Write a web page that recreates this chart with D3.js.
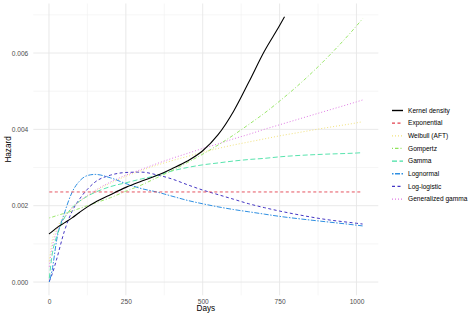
<!DOCTYPE html>
<html>
<head>
<meta charset="utf-8">
<script src="https://cdn.jsdelivr.net/npm/d3@7"></script>
<style>
  body { margin: 0; background: #fff; }
  svg { display: block; font-family: "Liberation Sans", Arial, sans-serif; }
</style>
</head>
<body>
<div id="chart"></div>
<script>
// Days at which each hazard curve was read
const days = [1, 10, 25, 50, 75, 100, 125, 150, 200, 250, 300, 350, 400, 450, 500,
  550, 600, 650, 700, 750, 800, 900, 1000, 1020];

// Kernel density has its own (shorter) grid, it stops around day 766
const kernelDays = [0, 10, 25, 50, 75, 100, 125, 150, 200, 250, 300, 350, 400, 450,
  500, 550, 600, 650, 700, 750, 766];
const kernelHazard = [0.00126, 0.00132, 0.00142, 0.00155, 0.00168, 0.00183, 0.00197,
  0.00209, 0.00229, 0.00248, 0.00264, 0.00279, 0.00297, 0.00317, 0.00344, 0.00386,
  0.00447, 0.00524, 0.00604, 0.00672, 0.00695];

const exponentialHazard = [0.00236, 0.00236, 0.00236, 0.00236, 0.00236, 0.00236,
  0.00236, 0.00236, 0.00236, 0.00236, 0.00236, 0.00236, 0.00236, 0.00236, 0.00236,
  0.00236, 0.00236, 0.00236, 0.00236, 0.00236, 0.00236, 0.00236, 0.00236, 0.00236];
const weibullHazard = [0.00054, 0.00107, 0.00140, 0.00172, 0.00194, 0.00211, 0.00225,
  0.00238, 0.00259, 0.00277, 0.00292, 0.00306, 0.00318, 0.00329, 0.00340, 0.00350,
  0.00359, 0.00367, 0.00375, 0.00383, 0.00390, 0.00404, 0.00417, 0.00420];
const gompertzHazard = [0.00168, 0.00170, 0.00174, 0.00180, 0.00186, 0.00193, 0.00200,
  0.00207, 0.00221, 0.00238, 0.00254, 0.00273, 0.00292, 0.00313, 0.00335, 0.00359,
  0.00385, 0.00413, 0.00442, 0.00474, 0.00508, 0.00584, 0.00671, 0.00690];
const gammaHazard = [0.00010, 0.00070, 0.00120, 0.00168, 0.00195, 0.00212, 0.00225,
  0.00235, 0.00250, 0.00260, 0.00270, 0.00279, 0.00291, 0.00300, 0.00307, 0.00312,
  0.00317, 0.00321, 0.00324, 0.00328, 0.00331, 0.00335, 0.00338, 0.00339];
const lognormalHazard = [0.00000, 0.00030, 0.00110, 0.00180, 0.00235, 0.00265, 0.00279,
  0.00282, 0.00273, 0.00258, 0.00245, 0.00236, 0.00225, 0.00214, 0.00205, 0.00197,
  0.00190, 0.00184, 0.00178, 0.00172, 0.00167, 0.00158, 0.00149, 0.00147];
const loglogisticHazard = [0.00002, 0.00020, 0.00060, 0.00133, 0.00185, 0.00218,
  0.00243, 0.00262, 0.00280, 0.00287, 0.00288, 0.00281, 0.00270, 0.00255, 0.00241,
  0.00229, 0.00217, 0.00205, 0.00195, 0.00186, 0.00178, 0.00164, 0.00154, 0.00152];
const gengammaHazard = [0.00040, 0.00090, 0.00132, 0.00168, 0.00193, 0.00212, 0.00227,
  0.00240, 0.00262, 0.00280, 0.00295, 0.00310, 0.00324, 0.00337, 0.00350, 0.00362,
  0.00375, 0.00387, 0.00400, 0.00412, 0.00424, 0.00448, 0.00472, 0.00477];

const xTicks = [0, 250, 500, 750, 1000];
const yTicks = [0, 0.002, 0.004, 0.006];

// legend order / styles
const series = [
  { name: 'Kernel density', x: kernelDays, y: kernelHazard, color: '#000000', dash: null, width: 1.1 },
  { name: 'Exponential', x: days, y: exponentialHazard, color: '#E2404E', dash: '3,2.5', width: 0.9 },
  { name: 'Weibull (AFT)', x: days, y: weibullHazard, color: '#F2E27E', dash: '1,2', width: 1 },
  { name: 'Gompertz', x: days, y: gompertzHazard, color: '#8FE35A', dash: '1,2,3.5,2', width: 0.9 },
  { name: 'Gamma', x: days, y: gammaHazard, color: '#45E0A4', dash: '5,2.5', width: 0.9 },
  { name: 'Lognormal', x: days, y: lognormalHazard, color: '#2E8FE2', dash: '1.5,1.5,5,1.5', width: 1 },
  { name: 'Log-logistic', x: days, y: loglogisticHazard, color: '#4436C4', dash: '3,2.5', width: 1 },
  { name: 'Generalized gamma', x: days, y: gengammaHazard, color: '#E07AE4', dash: '1,2', width: 1 }
];

const width = 474, height = 316;
const panel = { left: 33.3, right: 378.3, top: 3.5, bottom: 295.3 };

const svg = d3.select('#chart').append('svg')
  .attr('width', width)
  .attr('height', height);

// ggplot-like 5% expansion
const xMax = d3.max(series, s => d3.max(s.x));
const yMax = d3.max(series, s => d3.max(s.y));
const x = d3.scaleLinear()
  .domain([-0.05 * xMax, xMax * 1.05])
  .range([panel.left, panel.right]);
const y = d3.scaleLinear()
  .domain([-0.05 * yMax, yMax * 1.05])
  .range([panel.bottom, panel.top]);

// grid
const grid = svg.append('g');
const xMinor = xTicks.slice(0, -1).map((t, i) => (t + xTicks[i + 1]) / 2);
const yMinor = yTicks.map(t => t + 0.001);

grid.selectAll('.xminor').data(xMinor).enter().append('line')
  .attr('x1', d => x(d)).attr('x2', d => x(d))
  .attr('y1', panel.top).attr('y2', panel.bottom)
  .attr('stroke', '#F0F0F0').attr('stroke-width', 0.6);
grid.selectAll('.yminor').data(yMinor.filter(v => y(v) > panel.top)).enter().append('line')
  .attr('x1', panel.left).attr('x2', panel.right)
  .attr('y1', d => y(d)).attr('y2', d => y(d))
  .attr('stroke', '#F0F0F0').attr('stroke-width', 0.6);
grid.selectAll('.xmajor').data(xTicks).enter().append('line')
  .attr('x1', d => x(d)).attr('x2', d => x(d))
  .attr('y1', panel.top).attr('y2', panel.bottom)
  .attr('stroke', '#E6E6E6').attr('stroke-width', 0.9);
grid.selectAll('.ymajor').data(yTicks).enter().append('line')
  .attr('x1', panel.left).attr('x2', panel.right)
  .attr('y1', d => y(d)).attr('y2', d => y(d))
  .attr('stroke', '#E6E6E6').attr('stroke-width', 0.9);

// axes (labels only, theme_minimal has no axis lines)
const xAxis = svg.append('g')
  .attr('transform', `translate(0, ${panel.bottom + 1})`)
  .call(d3.axisBottom(x).tickValues(xTicks).tickSize(0).tickPadding(3).tickFormat(d3.format('d')));
const yAxis = svg.append('g')
  .attr('transform', `translate(${panel.left - 2}, 0)`)
  .call(d3.axisLeft(y).tickValues(yTicks).tickSize(0).tickPadding(3).tickFormat(d3.format('.3f')));
[xAxis, yAxis].forEach(a => {
  a.select('.domain').remove();
  a.selectAll('text')
    .attr('fill', '#4D4D4D')
    .style('font-size', '6.6px')
    .style('font-family', '"Liberation Sans", Arial, sans-serif');
});

svg.append('text')
  .attr('x', (panel.left + panel.right) / 2)
  .attr('y', 311)
  .attr('text-anchor', 'middle')
  .style('font-size', '8.2px')
  .style('fill', '#000')
  .text('Days');

svg.append('text')
  .attr('transform', `translate(11, ${(panel.top + panel.bottom) / 2}) rotate(-90)`)
  .attr('text-anchor', 'middle')
  .style('font-size', '8.2px')
  .style('fill', '#000')
  .text('Hazard');

// curves
const line = d3.line().curve(d3.curveMonotoneX);
const curves = svg.append('g');
series.slice().reverse().forEach(s => {
  curves.append('path')
    .attr('d', line(s.x.map((d, i) => [x(d), y(s.y[i])])))
    .attr('fill', 'none')
    .attr('stroke', s.color)
    .attr('stroke-width', s.width)
    .attr('stroke-dasharray', s.dash);
});

// legend
const legend = svg.append('g')
  .attr('transform', 'translate(392, 110.5)');
series.forEach((s, i) => {
  const item = legend.append('g')
    .attr('transform', `translate(0, ${i * 12.65})`);
  item.append('line')
    .attr('x1', 0).attr('x2', 11)
    .attr('stroke', s.color)
    .attr('stroke-width', s.width + 0.3)
    .attr('stroke-dasharray', s.dash);
  item.append('text')
    .attr('x', 16)
    .attr('y', 2.3)
    .style('font-size', '6.6px')
    .style('fill', '#000')
    .text(s.name);
});
</script>
</body>
</html>
